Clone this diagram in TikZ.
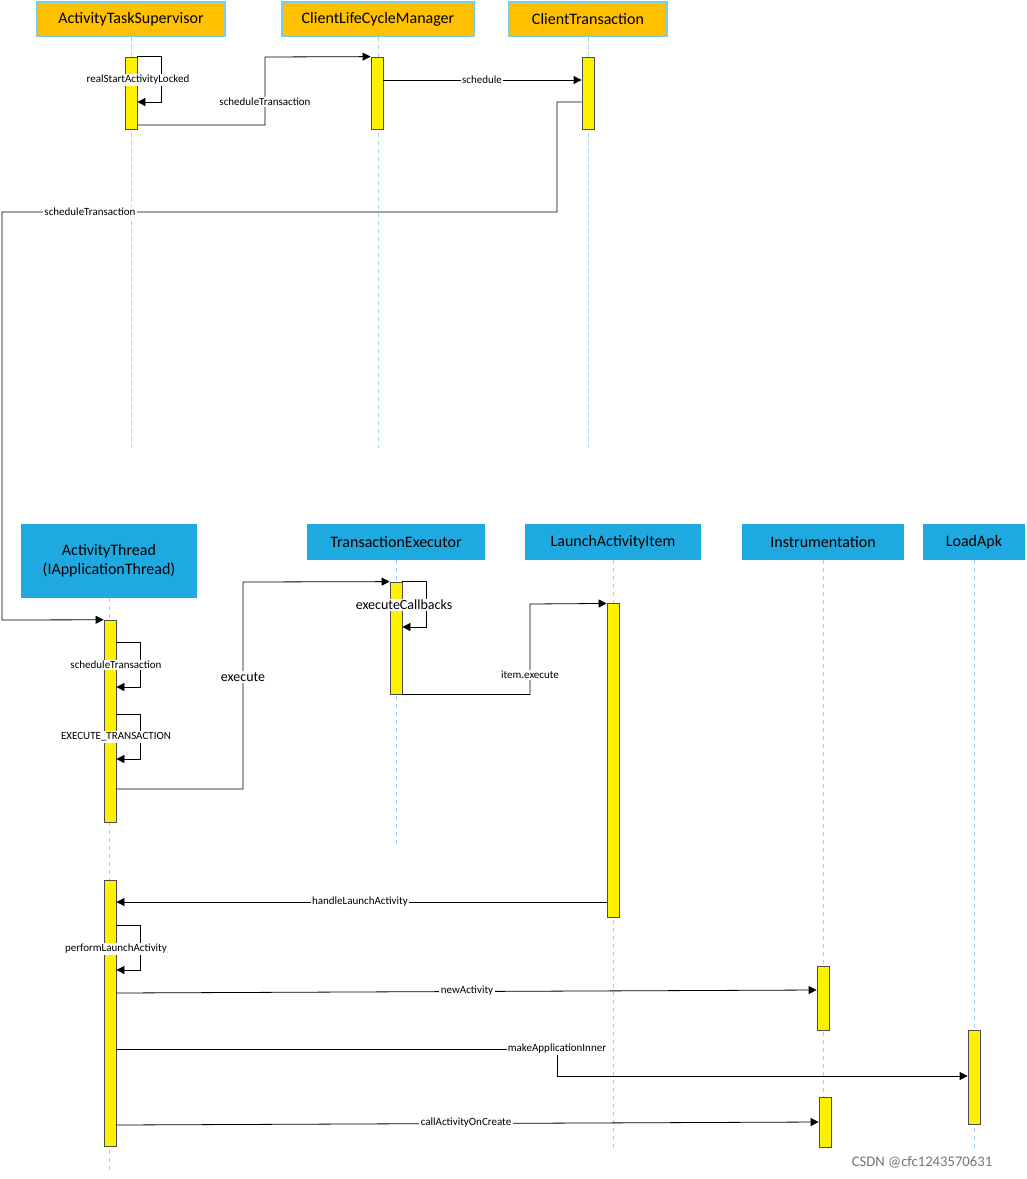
\documentclass[tikz,border=0pt]{standalone}
\usepackage{fontspec}
\setmainfont{Carlito}
\usetikzlibrary{arrows.meta}
\definecolor{headorange}{HTML}{FFC000}
\definecolor{headblue}{HTML}{1EAAE0}
\definecolor{lifeblue}{HTML}{9DD3EE}
\begin{document}
\begin{tikzpicture}
    [x=0.75pt,y=-0.75pt,
     head/.style={draw=headblue!60,line width=0.8pt,minimum height=25.5pt,inner sep=2pt,font=\fontsize{12}{14}\selectfont},
     orange/.style={head,fill=headorange},
     blue/.style={head,fill=headblue,draw=headblue},
     bar/.style={draw=black!70,fill=yellow,minimum width=9pt,inner sep=0pt,line width=0.6pt},
     life/.style={lifeblue,dashed,line width=0.5pt},
     msg/.style={-{Triangle[length=6pt,width=6pt]},line width=0.6pt},
     lbl/.style={fill=white,inner sep=1pt,font=\fontsize{8.25}{9}\selectfont},
     biglbl/.style={lbl,font=\fontsize{10.5}{12}\selectfont}]
    \useasboundingbox (0,0) rectangle (1027,1179);
    % heads
    \node [orange,minimum width=141pt] (ATS) at (131,19) {ActivityTaskSupervisor};
    \node [orange,minimum width=144pt] (CLCM) at (378,19) {ClientLifeCycleManager};
    \node [orange,minimum width=118.5pt] (CT) at (588,19) {ClientTransaction};
    \node [blue,minimum width=130.5pt,minimum height=54pt,align=center] (AT) at (109,561) {ActivityThread\\(IApplicationThread)};
    \node [blue,minimum width=132pt] (TE) at (396,542) {TransactionExecutor};
    \node [blue,minimum width=130.5pt] (LAI) at (613,542) {LaunchActivityItem};
    \node [blue,minimum width=120pt] (INS) at (823,542) {Instrumentation};
    \node [blue,minimum width=75pt] (LA) at (974,542) {LoadApk};
    % lifelines
    \draw [life] (ATS.south) -- (131,448);
    \draw [life] (CLCM.south) -- (378,448);
    \draw [life] (CT.south) -- (588,448);
    \draw [life] (AT.south) -- (109,1172);
    \draw [life] (TE.south) -- (396,845);
    \draw [life] (LAI.south) -- (613,1150);
    \draw [life] (INS.south) -- (823,1150);
    \draw [life] (LA.south) -- (974,1150);
    % activation bars
    \node [bar,minimum height=54pt] (bATS) at (131,93) {};
    \node [bar,minimum height=54pt] (bCLCM) at (377,93) {};
    \node [bar,minimum height=54pt] (bCT) at (588,93) {};
    \node [bar,minimum height=152pt] (bAT1) at (110,721.5) {};
    \node [bar,minimum height=200pt] (bAT2) at (110,1013.5) {};
    \node [bar,minimum height=84pt] (bTE) at (396,638) {};
    \node [bar,minimum height=235pt] (bLAI) at (613,760.5) {};
    \node [bar,minimum height=48pt] (bINS1) at (823,998) {};
    \node [bar,minimum height=71pt] (bLA) at (974,1077.5) {};
    \node [bar,minimum height=37pt] (bINS2) at (825,1122.5) {};
    % messages
    \draw [msg] (bATS.north east) -- ++(24,0) |- (bATS.east |- 0,102);
    \node [lbl] (l1) at (138,80) {realStartActivityLocked};
    \draw [msg] (bATS.east |- 0,125) -| (265,57) -- (bCLCM.north west);
    \node [lbl] (l2) at (265,102) {scheduleTransaction};
    \draw [msg] (bCLCM.east |- 0,80) -- (bCT.west |- 0,80);
    \node [lbl] (l3) at (482,80) {schedule};
    \draw [msg] (bCT.west |- 0,102) -| (557,212) -| (2,620) -- (bAT1.north west);
    \node [lbl] (l4) at (90,212) {scheduleTransaction};
    \draw [msg] (bAT1.east |- 0,642) -- ++(24,0) |- (bAT1.east |- 0,687);
    \node [lbl] (l5) at (116,665) {scheduleTransaction};
    \draw [msg] (bAT1.east |- 0,714) -- ++(24,0) |- (bAT1.east |- 0,759);
    \node [lbl] (l6) at (116,737) {EXECUTE\_TRANSACTION};
    \draw [msg] (bAT1.east |- 0,789) -| (243,582) -- (bTE.north west);
    \node [biglbl] (l7) at (243,677) {execute};
    \draw [msg] (bTE.north east) -- ++(24,0) |- (bTE.east |- 0,627);
    \node [biglbl] (l8) at (404,605) {executeCallbacks};
    \draw [msg] (bTE.south east) -| (530,604) -- (bLAI.north west);
    \node [lbl] (l9) at (530,675) {item.execute};
    \draw [msg] (bLAI.west |- 0,902) -- (bAT2.east |- 0,902);
    \node [lbl] (l10) at (360,902) {handleLaunchActivity};
    \draw [msg] (bAT2.east |- 0,925) -- ++(24,0) |- (bAT2.east |- 0,970);
    \node [lbl] (l11) at (116,949) {performLaunchActivity};
    \draw [msg] (bAT2.east |- 0,993) -- (bINS1.west |- 0,990);
    \node [lbl] (l12) at (467,991) {newActivity};
    \draw [msg] (bAT2.east |- 0,1049) -| (557,1076) -- (bLA.west |- 0,1076);
    \node [lbl] (l13) at (557,1049) {makeApplicationInner};
    \draw [msg] (bAT2.east |- 0,1125) -- (bINS2.west |- 0,1122);
    \node [lbl] (l14) at (466,1123) {callActivityOnCreate};
    \node [text=black!55,font=\fontsize{11}{13}\selectfont] (wm) at (922,1162) {CSDN @cfc1243570631};
\end{tikzpicture}
\end{document}
